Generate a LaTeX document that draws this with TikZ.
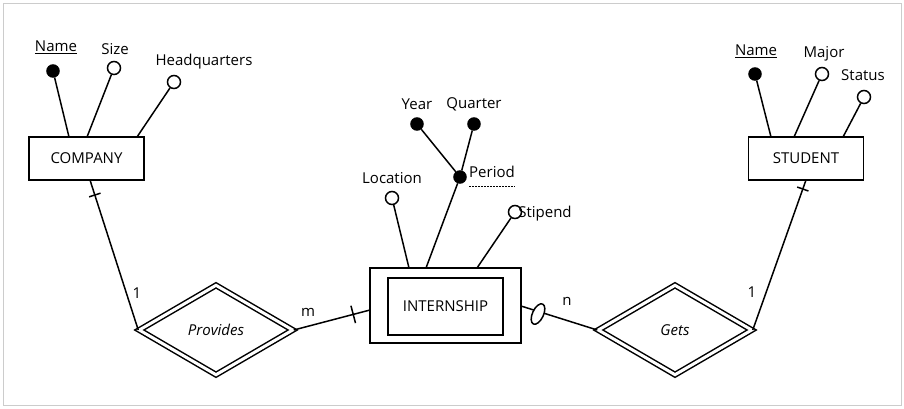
\documentclass[tikz,border=0pt]{standalone}
\usepackage{fontspec}
\setmainfont{Open Sans}
\usetikzlibrary{calc,shapes.geometric}
\begin{document}
\begin{tikzpicture}[x=1pt,y=-1pt,line width=1.5pt,
  ent/.style={draw,rectangle,minimum width=115pt,minimum height=43pt,font=\fontsize{15}{17}\selectfont},
  rel/.style={draw,diamond,minimum width=154pt,minimum height=90pt,double,double distance=3pt,inner sep=0pt,font=\fontsize{15}{17}\selectfont\itshape},
  lab/.style={font=\fontsize{15}{17}\selectfont,inner sep=1pt},
  key/.style={circle,fill,draw,minimum size=12pt,inner sep=0pt},
  att/.style={circle,draw,fill=white,minimum size=13pt,inner sep=0pt}]
\useasboundingbox (0,0) rectangle (904,408);
\draw[gray!40,line width=1pt] (3,3) rectangle (901,405);
% company
\node[ent] (co) at (86.5,158.5) {COMPANY};
\node[key] (cn) at (53,71) {};
\node[att] (cs) at (114,68) {};
\node[att] (ch) at (174,82) {};
\node[lab] (cnl) at (56,47) {\underline{Name}};
\node[lab] (csl) at (115,49) {Size};
\node[lab] (chl) at (204,62) {Headquarters};
\coordinate (c1) at (69,137); \coordinate (c2) at (87,137); \coordinate (c3) at (137,137);
\draw (cn)--(c1); \draw (cs)--(c2); \draw (ch)--(c3);
% provides
\node[rel] (pr) at (216,330) {Provides};
\coordinate (cb) at (90,180);
\draw (cb)--(pr.west);
\draw ($(cb)!0.1!(pr.west)!6pt!90:(pr.west)$)--($(cb)!0.1!(pr.west)!6pt!-90:(pr.west)$);
\node[lab] (l1) at (137,293) {1};
% internship
\node[ent,minimum width=151pt,minimum height=75pt] (in) at (445.5,305.5) {};
\node[ent,minimum width=115pt,minimum height=57pt] (ini) at (445.5,306.5) {INTERNSHIP};
\coordinate (inl) at (370,310);
\draw (pr.east)--(inl);
\draw ($(inl)!0.22!(pr.east)!9pt!90:(pr.east)$)--($(inl)!0.22!(pr.east)!9pt!-90:(pr.east)$);
\node[lab] (lm) at (308,312) {m};
\node[att] (lo) at (392,198) {};
\node[lab] (lol) at (392,178) {Location};
\draw (lo)--(409,268);
\node[key] (pe) at (460,177) {};
\node[lab] (pel) at (492,172) {Period};
\draw[dash pattern=on 2pt off 1pt,line width=0.7pt] (469,186)--(515,186);
\draw (pe)--(426,268);
\node[key] (ye) at (417,124) {};
\node[key] (qu) at (474,124) {};
\node[lab] (yel) at (417,104) {Year};
\node[lab] (qul) at (474,104) {Quarter};
\draw (ye)--(pe); \draw (qu)--(pe);
\node[att] (st) at (515,212) {};
\node[lab] (stl) at (545,214) {Stipend};
\draw (st)--(477,268);
% gets
\node[rel] (ge) at (675,330) {Gets};
\coordinate (inr) at (521,306);
\draw (inr)--(ge.west);
\node[draw,ellipse,fill=white,minimum width=11pt,minimum height=22pt,inner sep=0pt,rotate=-25] (ov) at (538,314) {};
\node[lab] (ln) at (567,301) {n};
% student
\node[ent] (su) at (806,158.5) {STUDENT};
\node[key] (sn) at (755,74) {};
\node[att] (sm) at (822,74) {};
\node[att] (ss) at (864,97) {};
\node[lab] (snl) at (756,51) {\underline{Name}};
\node[lab] (sml) at (824,54) {Major};
\node[lab] (ssl) at (863,75) {Status};
\draw (sn)--(771,137); \draw (sm)--(794,137); \draw (ss)--(843,137);
\coordinate (sb) at (806,180);
\draw (ge.east)--(sb);
\draw ($(sb)!0.06!(ge.east)!6pt!90:(ge.east)$)--($(sb)!0.06!(ge.east)!6pt!-90:(ge.east)$);
\node[lab] (l2) at (752,292) {1};
\end{tikzpicture}
\end{document}
